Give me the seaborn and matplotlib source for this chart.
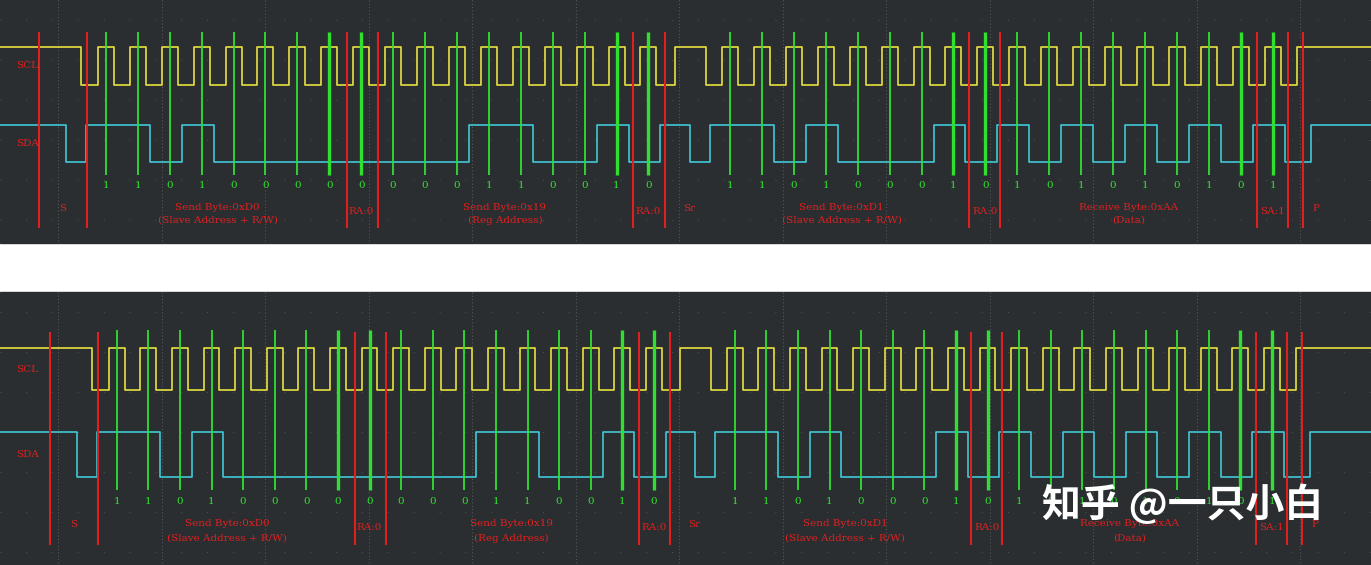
import matplotlib
matplotlib.use("Agg")
import matplotlib.pyplot as plt
import seaborn as sns
import pandas as pd
import numpy as np

# I2C transaction: write reg addr then read one byte
BYTES = ["0xD0", "0x19", "0xD1", "0xAA"]
BITS = [[1, 1, 0, 1, 0, 0, 0, 0], [0, 0, 0, 1, 1, 0, 0, 1],
        [1, 1, 0, 1, 0, 0, 0, 1], [1, 0, 1, 0, 1, 0, 1, 0]]
ACKS = [0, 0, 0, 1]
ACK_LABELS = ["RA:0", "RA:0", "RA:0", "SA:1"]
SUBTITLES = ["(Slave Address + R/W)", "(Reg Address)", "(Slave Address + R/W)", "(Data)"]
TITLES = ["Send Byte:0xD0", "Send Byte:0x19", "Send Byte:0xD1", "Receive Byte:0xAA"]

T = 31.6           # bit period (px of bottom capture)
X0 = 93            # first slot start
X1 = 711           # first slot after repeated start

BG = "#2a2e30"
YEL = "#e8e040"
CYAN = "#40c8d8"
GRN = "#30e030"
RED = "#e02020"

# build waveform
all_bits = []
slot_starts = []
for b in range(4):
    base = X0 if b < 2 else X1
    off = (b % 2) * 9
    for i, v in enumerate(BITS[b] + [ACKS[b]]):
        slot_starts.append(base + (off + i) * T)
        all_bits.append(v)

scl = [(0, 1), (X0 - 1, 0)]
sda = [(0, 1), (77, 0)]
for k, (s, v) in enumerate(zip(slot_starts, all_bits)):
    scl += [(s, 0), (s + T / 2, 1)]
    sda += [(s + 4, v)]
    if k == 17:   # repeated start
        e = s + T
        scl += [(e, 0), (e + 18, 1)]
        sda += [(e + 4, 1), (e + 33, 0)]
end = slot_starts[-1] + T
scl += [(end, 0), (end + 16, 1), (1371, 1)]
sda += [(end + 4, 0), (end + 30, 1), (1371, 1)]

green_x = [s + 0.75 * T for s in slot_starts]
red_x = [50, 98, 355, 386, 639, 670, 971, 1002, 1256, 1287, 1302]

fig = plt.figure(figsize=(13.71, 5.65), dpi=100)
ax = fig.add_axes([0, 0, 1, 1])
ax.set_xlim(0, 1371)
ax.set_ylim(565, 0)
ax.axis("off")
fig.patch.set_facecolor("white")

panels = [
    dict(top=0, bot=243, dx=-12, sc=1.01, scl=(47, 85), sda=(125, 162), g=(32, 175), r=(32, 228), lab=185, t1=207, t2=220),
    dict(top=292, bot=565, dx=0, sc=1.0, scl=(348, 390), sda=(432, 477), g=(330, 490), r=(332, 545), lab=501, t1=523, t2=538),
]

font = dict(family="DejaVu Serif", fontsize=7.5)
for p in panels:
    ax.add_patch(plt.Rectangle((0, p["top"]), 1371, p["bot"] - p["top"], color=BG, zorder=0))
    X = lambda x: np.asarray(x) * p["sc"] + p["dx"]
    # grid dots
    for gx in np.arange(58, 1371, 103.5):
        ax.vlines(gx, p["top"], p["bot"], color="#6a7070", lw=0.6, ls=(0, (1, 3)), zorder=1)
    for gy in np.arange(p["top"] + 20, p["bot"], 40):
        ax.hlines(gy, 0, 1371, color="#5a6060", lw=0.6, ls=(0, (1, 30)), zorder=1)
    for name, pts, col, lv in [("SCL", scl, YEL, p["scl"]), ("SDA", sda, CYAN, p["sda"])]:
        df = pd.DataFrame(pts, columns=["t", "v"])
        df["x"] = X(df["t"])
        df["y"] = np.where(df["v"] == 1, lv[0], lv[1])
        sns.lineplot(data=df, x="x", y="y", ax=ax, color=col, lw=1.2,
                     drawstyle="steps-post", estimator=None, sort=False, zorder=3)
        ax.text(16, (lv[0] + lv[1]) / 2, name, color=RED, va="center", **font)
    for k, gx in enumerate(green_x):
        thick = k % 9 in (7, 8)
        ax.vlines(X(gx), *p["g"], color=GRN, lw=2.4 if thick else 1.3, zorder=4)
        ax.text(X(gx), p["lab"], str(all_bits[k]), color=GRN, ha="center", va="center", **font)
    for rx in red_x:
        ax.vlines(X(rx), *p["r"], color=RED, lw=1.5, zorder=4)
    ax.text(X(74), p["t1"] + 4, "S", color=RED, ha="center", **font)
    ax.text(X(694), p["t1"] + 4, "Sr", color=RED, ha="center", **font)
    ax.text(X(1315), p["t1"] + 4, "P", color=RED, ha="center", **font)
    for b in range(4):
        c = np.mean(green_x[b * 9:b * 9 + 8])
        ax.text(X(c), p["t1"], TITLES[b], color=RED, ha="center", va="center", **font)
        ax.text(X(c), p["t2"], SUBTITLES[b], color=RED, ha="center", va="center", **font)
        ax.text(X(green_x[b * 9 + 8]), p["t1"] + 4, ACK_LABELS[b], color=RED, ha="center", va="center", **font)

ax.text(1183, 505, "知乎 @一只小白", color="white", fontsize=28, fontweight="bold",
        ha="center", va="center", family=["Noto Sans CJK SC", "DejaVu Sans"], zorder=6)

fig.savefig("out.png", dpi=100)
